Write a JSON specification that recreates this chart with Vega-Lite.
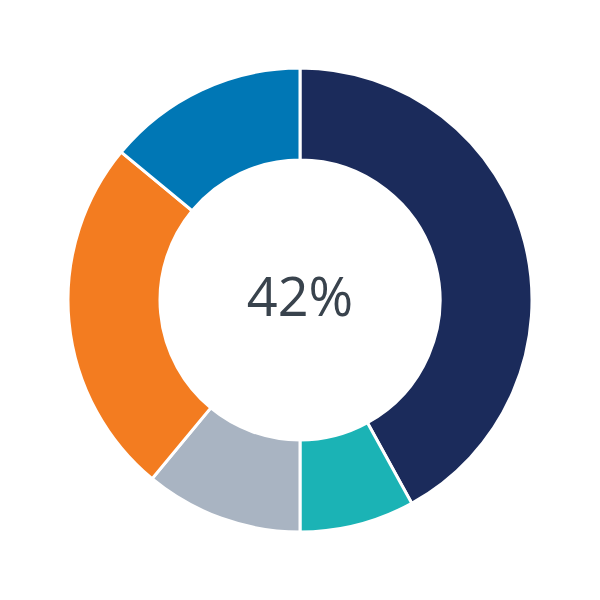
{
  "$schema": "https://vega.github.io/schema/vega-lite/v6.json",
  "width": 600,
  "height": 600,
  "padding": 0,
  "autosize": {"type": "fit", "contains": "padding"},
  "background": "white",
  "view": {"stroke": null},
  "data": {"values": [
    {"category": "A", "value": 42, "order": 1},
    {"category": "B", "value": 8, "order": 2},
    {"category": "C", "value": 11, "order": 3},
    {"category": "D", "value": 25, "order": 4},
    {"category": "E", "value": 14, "order": 5}
  ]},
  "layer": [
    {
      "mark": {"type": "arc", "outerRadius": 232, "innerRadius": 140, "stroke": "white", "strokeWidth": 3},
      "encoding": {
        "theta": {"field": "value", "type": "quantitative", "stack": true},
        "order": {"field": "order", "type": "quantitative"},
        "color": {
          "field": "category", "type": "nominal", "legend": null,
          "scale": {"domain": ["A", "B", "C", "D", "E"], "range": ["#1b2b5b", "#1bb3b5", "#a9b4c2", "#f37c20", "#0077b5"]}
        }
      }
    },
    {
      "data": {"values": [{"label": "42%"}]},
      "mark": {"type": "text", "fontSize": 54, "font": "Open Sans", "color": "#39434d", "align": "center", "baseline": "middle", "dy": 0},
      "encoding": {"text": {"field": "label", "type": "nominal"}}
    }
  ]
}
